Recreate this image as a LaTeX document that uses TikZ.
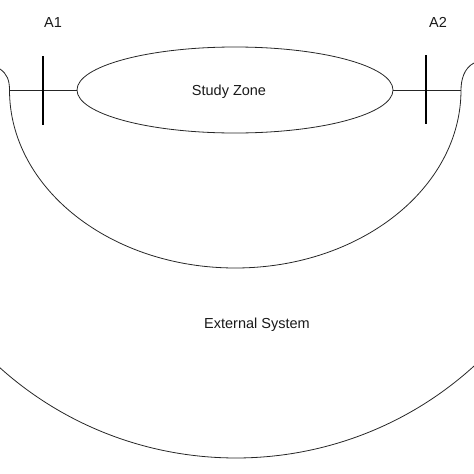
\documentclass[tikz,border=0pt]{standalone}
\usepackage{fontspec}
\setmainfont{Liberation Sans}
\usetikzlibrary{shapes.geometric}
\begin{document}
\begin{tikzpicture}[x=1pt,y=-1pt,
  thinln/.style={line width=0.8pt, draw=black!85},
  barln/.style={line width=2.6pt},
  lbl/.style={font=\fontsize{14.5}{16}\selectfont, inner sep=0pt, text=black!90}]
\useasboundingbox (0,0) rectangle (474,474);
\clip (0,0) rectangle (474,474);
\node[draw, ellipse, thinln, minimum width=316pt, minimum height=86pt, inner sep=0pt] (zone) at (235,90) {};
\node[lbl] (zl) at (229,92) {Study Zone};
\node[lbl] (ext) at (257,325) {External System};
\node[lbl] (a1) at (53,23) {A1};
\node[lbl] (a2) at (438,22) {A2};
\coordinate (L) at (9.5,90);
\coordinate (R) at (461,90);
\coordinate (b1t) at (43,56);
\coordinate (b1b) at (43,125);
\coordinate (b2t) at (426,55);
\coordinate (b2b) at (426,124);
\coordinate (os) at (-14.3,354.3);
\draw[thinln] (0,69) .. controls (7,74) and (9.5,80) .. (L)
  arc[start angle=180, end angle=0, x radius=225.75, y radius=178]
  .. controls (461,80) and (464,68) .. (474,63);
\draw[thinln] (L) -- (zone.west);
\draw[thinln] (zone.east) -- (R);
\draw[barln] (b1t) -- (b1b);
\draw[barln] (b2t) -- (b2b);
\draw[thinln] (os) arc[start angle=135, end angle=45, radius=354];
\end{tikzpicture}
\end{document}
